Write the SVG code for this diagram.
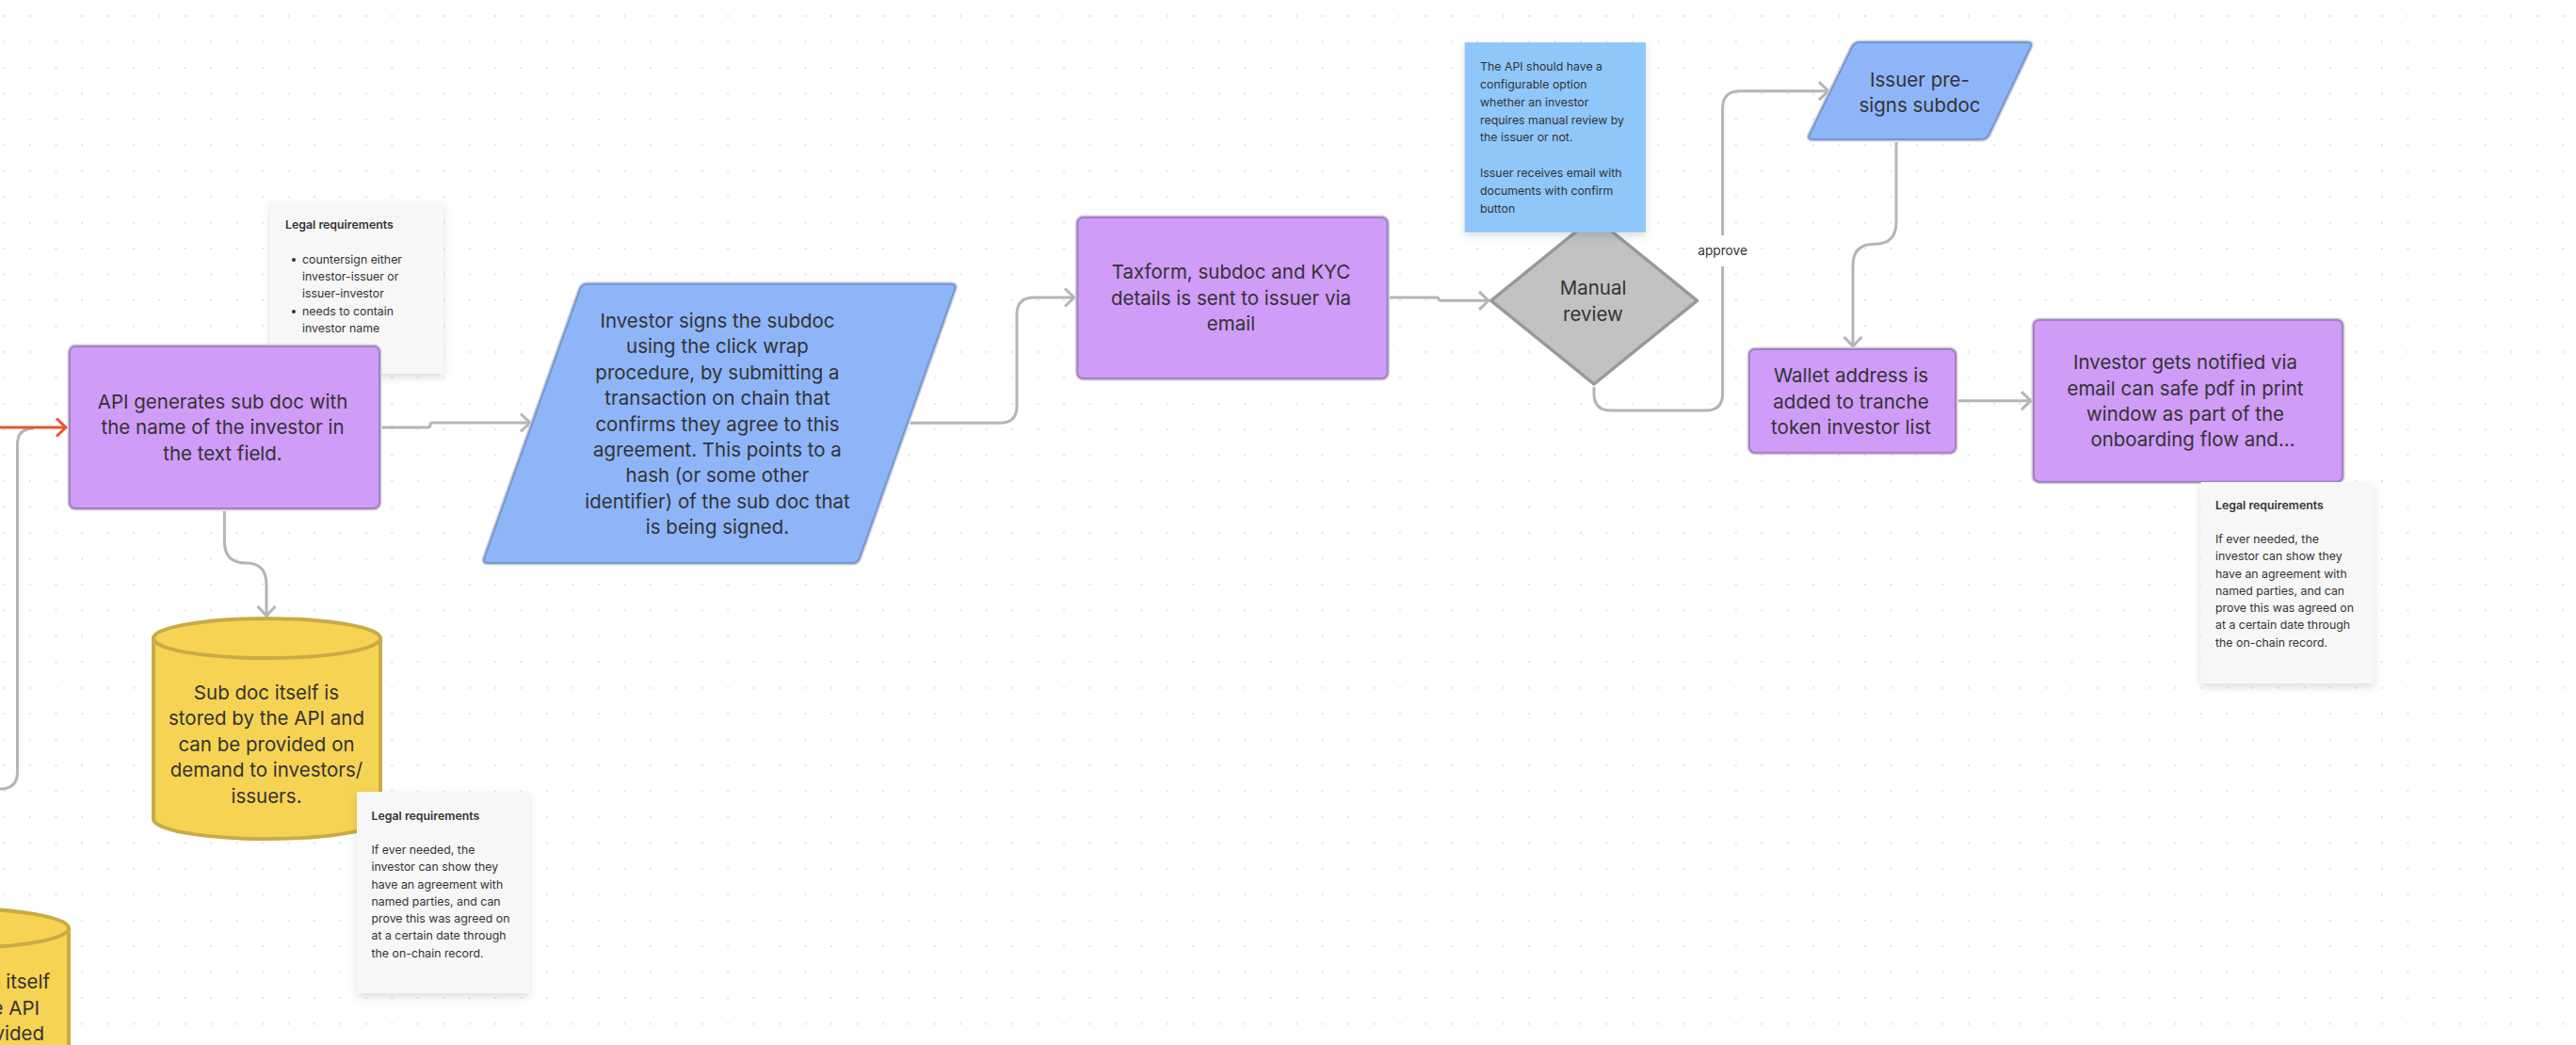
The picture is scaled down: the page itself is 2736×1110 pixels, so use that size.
<svg xmlns="http://www.w3.org/2000/svg" width="2736" height="1110" viewBox="0 0 2736 1110">
<style>
text{font-family:Inter,"Noto Sans","Liberation Sans",sans-serif;fill:#333}
.m{font-size:20.500px;text-anchor:middle}
.s{font-size:12.350px}
.b{font-weight:600}
.box{fill:#cf9cf7;stroke:#a67dc8;stroke-width:2}
.para{fill:#8fb5f9;stroke:#7397d6;stroke-width:2;stroke-linejoin:round}
.halo{fill:none;stroke:#cfcfcf;stroke-width:5;stroke-linejoin:round}
.cyl{fill:#f7d354;stroke:#c9ab47;stroke-width:4}
.note{fill:#f7f7f7;filter:url(#sh)}
.c{fill:none;stroke:#b5b5b5;stroke-width:3;stroke-linejoin:round}
.ar{marker-end:url(#arr)}
</style>
<defs>
<pattern id="dots" x="4.600" y="17" width="27.450" height="27.450" patternUnits="userSpaceOnUse"><circle cx="0" cy="0" r="1" fill="#dadada"/><circle cx="27.450" cy="0" r="1" fill="#dadada"/><circle cx="0" cy="27.450" r="1" fill="#dadada"/><circle cx="27.450" cy="27.450" r="1" fill="#dadada"/></pattern>
<filter id="sh" x="-20%" y="-20%" width="140%" height="140%"><feDropShadow dx="0" dy="4" stdDeviation="4" flood-color="#000" flood-opacity="0.13"/></filter>
<marker id="arr" markerUnits="userSpaceOnUse" markerWidth="16" markerHeight="24" refX="12" refY="12" orient="auto"><path d="M2 2.500L12 12L2 21.500" fill="none" stroke="#b5b5b5" stroke-width="3"/></marker>
<marker id="arrR" markerUnits="userSpaceOnUse" markerWidth="16" markerHeight="24" refX="12" refY="12" orient="auto"><path d="M2 2.500L12 12L2 21.500" fill="none" stroke="#e8552f" stroke-width="3"/></marker>
</defs>
<rect width="2736" height="1110" fill="#fff"/>
<rect width="2736" height="1110" fill="url(#dots)"/>

<g id="note-legal-1"><rect class="note" x="287" y="214" width="184" height="183"/>
<text class="s b" x="303" y="243">Legal requirements</text>
<circle cx="312" cy="276" r="2" fill="#333"/><circle cx="312" cy="331" r="2" fill="#333"/>
<text class="s" x="321" y="280">countersign either</text><text class="s" x="321" y="298">investor-issuer or</text><text class="s" x="321" y="316">issuer-investor</text><text class="s" x="321" y="335">needs to contain</text><text class="s" x="321" y="353">investor name</text></g>

<g id="connectors">
<path class="c" d="M0 838Q18.500 838 18.500 820V472Q18.500 455 36 455"/>
<path d="M0 454H70" fill="none" stroke="#e8552f" stroke-width="3" marker-end="url(#arrR)"/>
<path class="c ar" d="M405.600 454H454Q457 454 457 451.500Q457 449 460 449H563"/>
<path class="c ar" d="M238.400 543V575Q238.400 598 261 598Q283 598 283 621V654"/>
<path class="c ar" d="M966.600 449.300H1062Q1080 449.300 1080 431V334Q1080 316 1098 316H1141"/>
<path class="c ar" d="M1476 316H1525Q1528 316 1528 317.600Q1528 319.300 1531 319.300H1581"/>
<path class="c" d="M1693 411V418Q1693 436 1711 436H1812Q1829.600 436 1829.600 418V283"/>
<path class="c ar" d="M1829.600 250V115Q1829.600 96.700 1848 96.700H1942"/>
<path class="c ar" d="M2014 151V236Q2014 259.300 1991 259.300Q1968 259.300 1968 282V367.700"/>
<path class="c ar" d="M2080 425.700H2157"/>
</g>
<text x="1829.600" y="270.700" font-size="13.700" text-anchor="middle">approve</text>

<g id="node-api"><rect class="halo" x="74" y="368" width="329" height="172" rx="6"/><rect class="box" x="74" y="368" width="329" height="172" rx="6"/>
<text class="m" x="236.500" y="434">API generates sub doc with</text><text class="m" x="236.500" y="461.400">the name of the investor in</text><text class="m" x="236.500" y="488.900">the text field.</text></g>

<g id="node-store"><path class="cyl" d="M163 678A120.500 21 0 0 1 404 678V870A120.500 21 0 0 1 163 870Z"/><path class="cyl" style="fill:none" d="M163 678A120.500 21 0 0 0 404 678"/>
<text class="m" x="283" y="743">Sub doc itself is</text><text class="m" x="283" y="770.400">stored by the API and</text><text class="m" x="283" y="797.900">can be provided on</text><text class="m" x="283" y="825.300">demand to investors/</text><text class="m" x="283" y="852.800">issuers.</text></g>

<g id="note-legal-2"><rect class="note" x="379" y="841" width="183.600" height="214"/>
<text class="s b" x="394.500" y="871">Legal requirements</text>
<text class="s" x="394.500" y="907">If ever needed, the</text><text class="s" x="394.500" y="925.300">investor can show they</text><text class="s" x="394.500" y="943.500">have an agreement with</text><text class="s" x="394.500" y="961.800">named parties, and can</text><text class="s" x="394.500" y="980">prove this was agreed on</text><text class="s" x="394.500" y="998.300">at a certain date through</text><text class="s" x="394.500" y="1016.500">the on-chain record.</text></g>

<g id="node-store-2"><path class="cyl" d="M-168 986A120.500 21 0 0 1 73 986V1140H-168Z"/><path class="cyl" style="fill:none" d="M-168 986A120.500 21 0 0 0 73 986"/>
<text class="m" style="text-anchor:end" x="53" y="1050">n itself</text><text class="m" style="text-anchor:end" x="42" y="1077.500">e API</text><text class="m" style="text-anchor:end" x="47" y="1105">vided</text></g>

<g id="node-sign"><path class="halo" d="M624 301.700H1010Q1016 301.700 1014 307.400L913 592.300Q911 598 905 598H518.600Q512.600 598 514.600 592.300L616 307.400Q618 301.700 624 301.700Z"/><path class="para" d="M624 301.700H1010Q1016 301.700 1014 307.400L913 592.300Q911 598 905 598H518.600Q512.600 598 514.600 592.300L616 307.400Q618 301.700 624 301.700Z"/>
<text class="m" x="762" y="347.700">Investor signs the subdoc</text><text class="m" x="762" y="375.100">using the click wrap</text><text class="m" x="762" y="402.600">procedure, by submitting a</text><text class="m" x="762" y="430">transaction on chain that</text><text class="m" x="762" y="457.500">confirms they agree to this</text><text class="m" x="762" y="484.900">agreement. This points to a</text><text class="m" x="762" y="512.400">hash (or some other</text><text class="m" x="762" y="539.800">identifier) of the sub doc that</text><text class="m" x="762" y="567.300">is being signed.</text></g>

<g id="node-taxform"><rect class="halo" x="1144.500" y="231" width="329" height="171" rx="6"/><rect class="box" x="1144.500" y="231" width="329" height="171" rx="6"/>
<text class="m" x="1307.500" y="296">Taxform, subdoc and KYC</text><text class="m" x="1307.500" y="323.500">details is sent to issuer via</text><text class="m" x="1307.500" y="351">email</text></g>

<g id="node-review"><path d="M1693 230.600L1802.500 319.300L1693 408L1583.700 319.300Z" fill="#c2c2c2" stroke="#999" stroke-width="3.500" stroke-linejoin="round"/>
<text class="m" x="1692" y="313">Manual</text><text class="m" x="1692" y="340.500">review</text></g>

<g id="note-config"><rect class="note" x="1555.600" y="45" width="192.400" height="201.700" style="fill:#90c7fa"/>
<text class="s" x="1572" y="75">The API should have a</text><text class="s" x="1572" y="94">configurable option</text><text class="s" x="1572" y="112.700">whether an investor</text><text class="s" x="1572" y="131.500">requires manual review by</text><text class="s" x="1572" y="150.300">the issuer or not.</text><text class="s" x="1572" y="188">Issuer receives email with</text><text class="s" x="1572" y="206.800">documents with confirm</text><text class="s" x="1572" y="225.600">button</text></g>

<g id="node-issuer"><path class="halo" d="M1975.600 45H2153Q2159 45 2156.400 50.400L2112.600 142.600Q2110 148 2104 148H1925.600Q1919.600 148 1922.200 142.600L1967 50.400Q1969.600 45 1975.600 45Z"/><path class="para" d="M1975.600 45H2153Q2159 45 2156.400 50.400L2112.600 142.600Q2110 148 2104 148H1925.600Q1919.600 148 1922.200 142.600L1967 50.400Q1969.600 45 1975.600 45Z"/>
<text class="m" x="2039" y="91.700">Issuer pre-</text><text class="m" x="2039" y="119.100">signs subdoc</text></g>

<g id="node-wallet"><rect class="halo" x="1858" y="371" width="219" height="109.700" rx="6"/><rect class="box" x="1858" y="371" width="219" height="109.700" rx="6"/>
<text class="m" x="1966" y="406">Wallet address is</text><text class="m" x="1966" y="433.500">added to tranche</text><text class="m" x="1966" y="461">token investor list</text></g>

<g id="node-investor"><rect class="halo" x="2160" y="340" width="328" height="171.700" rx="6"/><rect class="box" x="2160" y="340" width="328" height="171.700" rx="6"/>
<text class="m" x="2321" y="392">Investor gets notified via</text><text class="m" x="2321" y="419.500">email can safe pdf in print</text><text class="m" x="2321" y="447">window as part of the</text><text class="m" x="2329" y="474.400">onboarding flow and...</text></g>

<g id="note-legal-3"><rect class="note" x="2337.700" y="512" width="183.300" height="214"/>
<text class="s b" x="2353" y="540.700">Legal requirements</text>
<text class="s" x="2353" y="577">If ever needed, the</text><text class="s" x="2353" y="595.300">investor can show they</text><text class="s" x="2353" y="613.500">have an agreement with</text><text class="s" x="2353" y="631.800">named parties, and can</text><text class="s" x="2353" y="650">prove this was agreed on</text><text class="s" x="2353" y="668.300">at a certain date through</text><text class="s" x="2353" y="686.500">the on-chain record.</text></g>
</svg>
